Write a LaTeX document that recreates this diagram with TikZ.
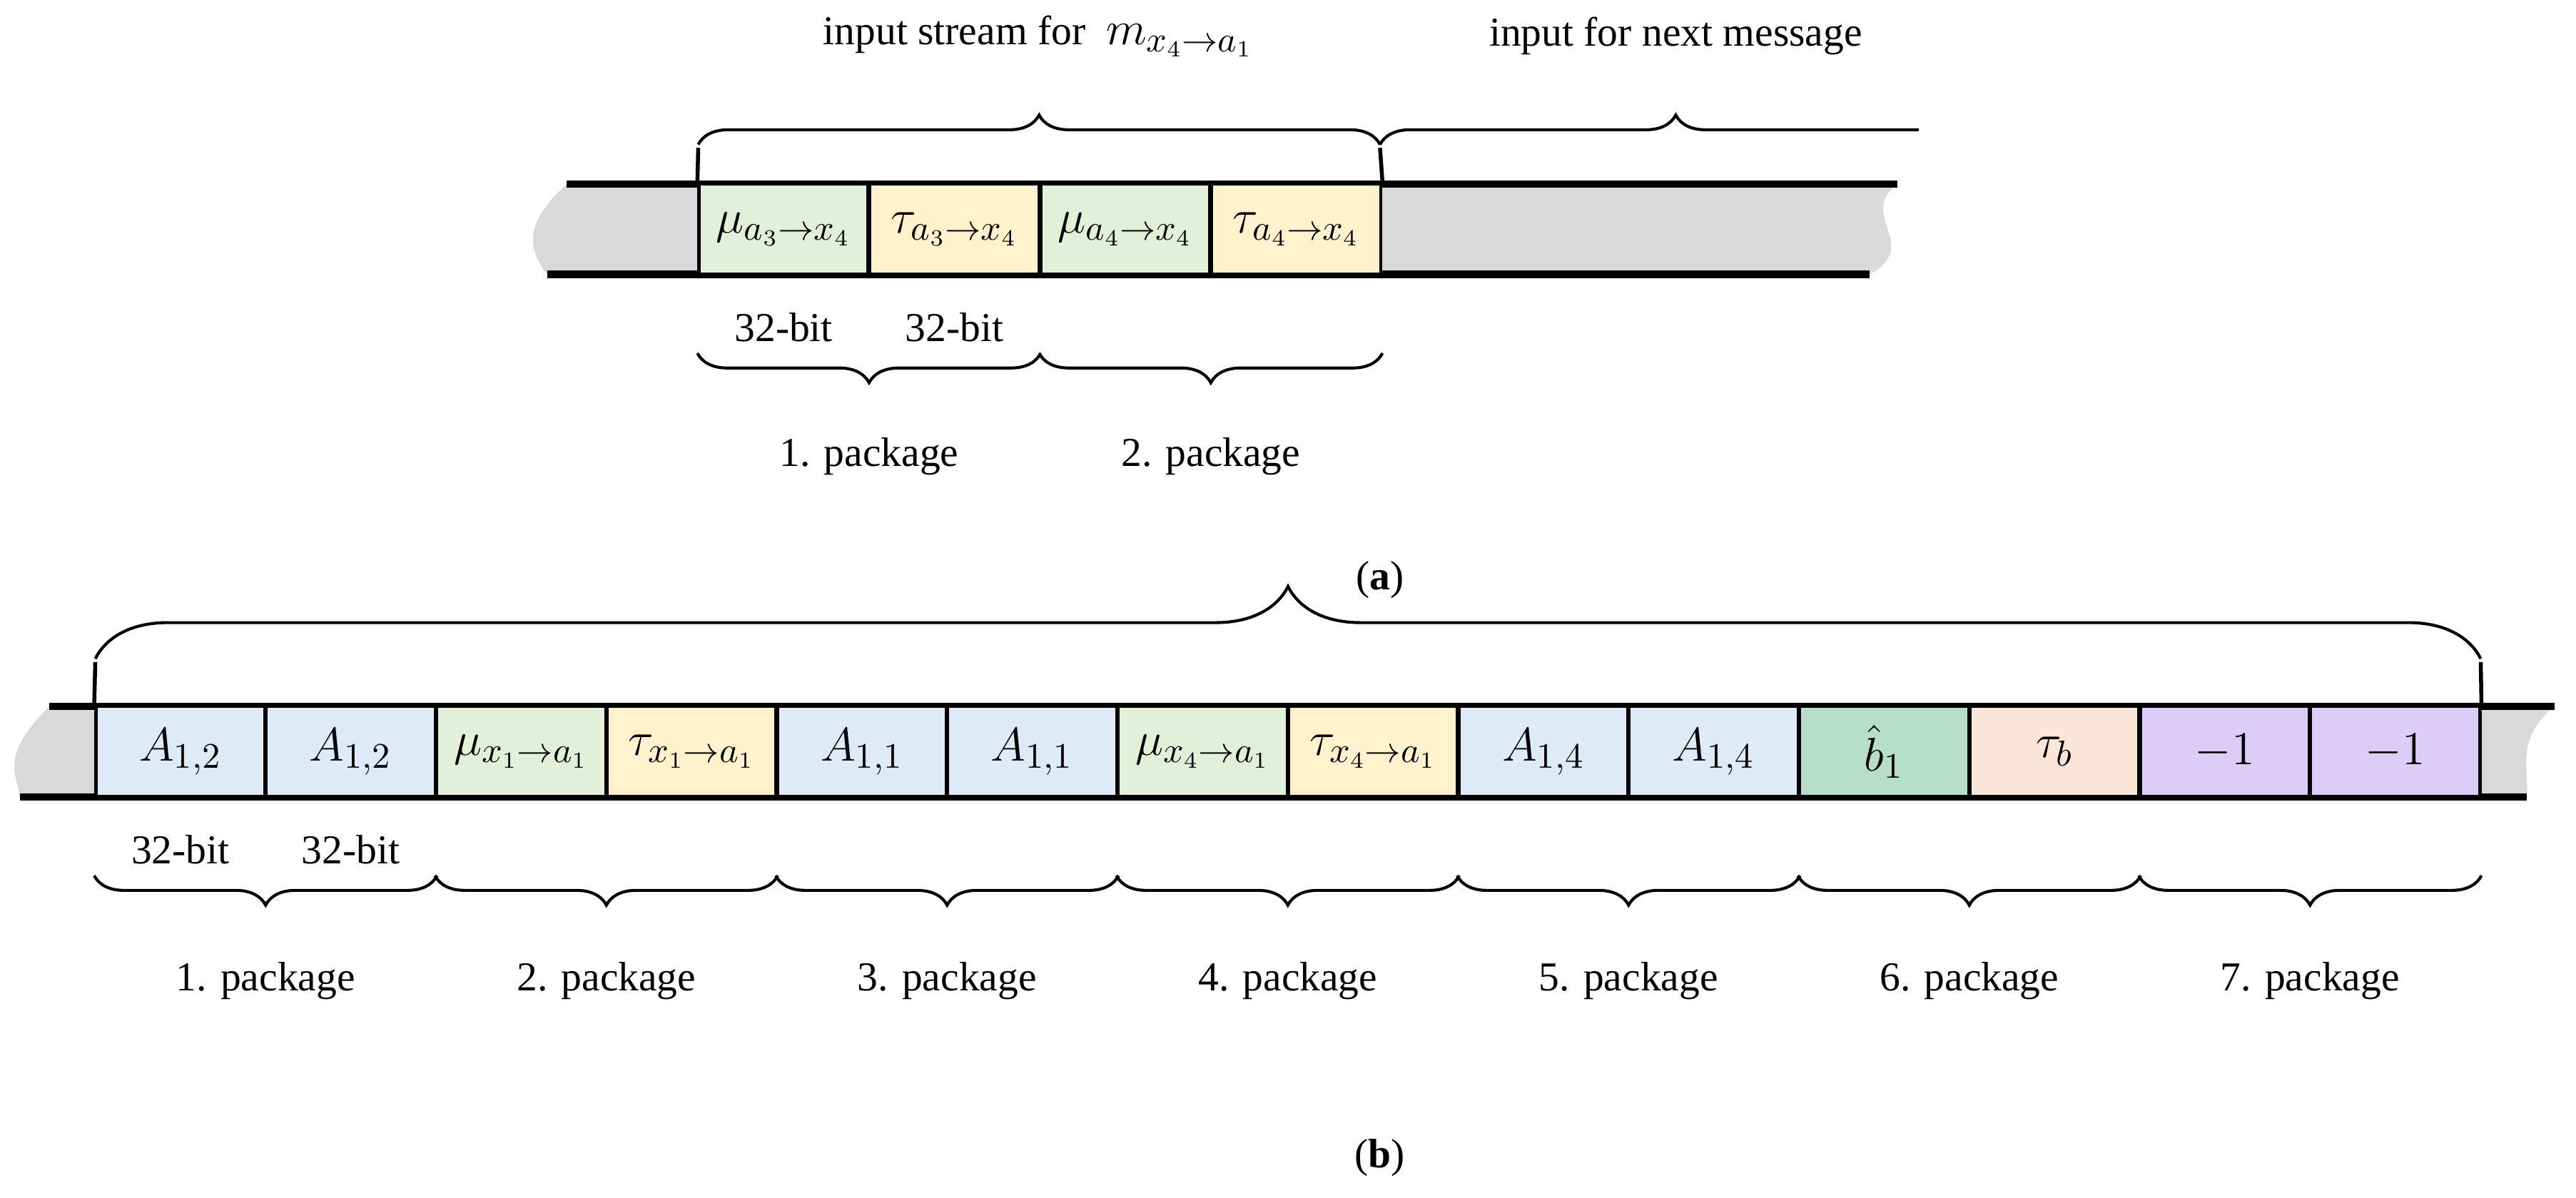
\documentclass[tikz,border=0pt]{standalone}
\usepackage{fontspec}
\setmainfont{Liberation Serif}
\usetikzlibrary{positioning,decorations.pathreplacing}
\definecolor{cblue}{HTML}{DEEBF7}
\definecolor{cgreen}{HTML}{E2F0D9}
\definecolor{cyellow}{HTML}{FFF2CC}
\definecolor{cteal}{HTML}{B6DECB}
\definecolor{cpeach}{HTML}{FBE5D6}
\definecolor{cpurple}{HTML}{DCCDF8}
\definecolor{ctape}{HTML}{D9D9D9}
\begin{document}
\begin{tikzpicture}[x=0.5pt,y=-0.5pt,
  cell/.style={draw, line width=1pt, minimum width=51.5pt, minimum height=27.5pt, inner sep=0pt, font=\fontsize{15}{17}\selectfont},
  lbl/.style={font=\fontsize{12.5}{15}\selectfont, inner sep=1pt},
  mybrace/.style={decorate, decoration={brace, amplitude=9pt}, line width=0.9pt},
  tape/.style={line width=2.2pt}]
\useasboundingbox (0,0) rectangle (1568,729);

% (a) tape
\fill[ctape] (345,112) .. controls (320,135) and (320,150) .. (333,167) -- (1138,167) .. controls (1170,150) and (1130,130) .. (1155,112) -- cycle;
\draw[tape] (345,112) -- (1155,112);
\draw[tape] (333,167) -- (1138,167);
\foreach \t/\c [count=\i] in {{\mu_{a_3\to x_4}}/cgreen, {\tau_{a_3\to x_4}}/cyellow, {\mu_{a_4\to x_4}}/cgreen, {\tau_{a_4\to x_4}}/cyellow}
  \node[cell, fill=\c] (p\i) at (425+104*\i-52,139.5) {$\t$};
\coordinate (pt1) at (425,90);
\coordinate (pt2) at (840,90);
\draw[line width=1.2pt] (p1.north west) -- (pt1);
\draw[line width=1.2pt] (p4.north east) -- (pt2);
\draw[mybrace] (425,88) -- (840,88);
\begin{scope}
\clip (840,40) rectangle (1168,100);
\draw[mybrace] (840,88) -- (1200,88);
\end{scope}
\node[lbl] (ha) at (632,22) {input stream for \ {\fontsize{15}{17}\selectfont$m_{x_4\to a_1}$}};
\node[lbl] (hb) at (1020,22) {input for next message};
\node[lbl, below=10pt of p1] (ba1) {32-bit};
\node[lbl, below=10pt of p2] (ba2) {32-bit};
\draw[mybrace] (p2.south east |- 0,215) -- (p1.south west |- 0,215);
\draw[mybrace] (p4.south east |- 0,215) -- (p3.south west |- 0,215);
\node[lbl] (pa1) at (529,278) {1. package};
\node[lbl] (pa2) at (737,278) {2. package};
\node[lbl] (capa) at (840,353) {(\textbf{a})};

% (b) tape
\fill[ctape] (30,430) .. controls (0,460) and (10,470) .. (12,485) -- (1538,485) .. controls (1540,470) and (1530,450) .. (1555,430) -- cycle;
\draw[tape] (30,430) -- (1555,430);
\draw[tape] (12,485) -- (1538,485);
\foreach \t/\c [count=\i] in {{A_{1,2}}/cblue, {A_{1,2}}/cblue, {\mu_{x_1\to a_1}}/cgreen, {\tau_{x_1\to a_1}}/cyellow, {A_{1,1}}/cblue, {A_{1,1}}/cblue, {\mu_{x_4\to a_1}}/cgreen, {\tau_{x_4\to a_1}}/cyellow, {A_{1,4}}/cblue, {A_{1,4}}/cblue, {\hat{b}_1}/cteal, {\tau_b}/cpeach, {-1}/cpurple, {-1}/cpurple}
  \node[cell, fill=\c] (c\i) at (58+103.7*\i-51.85,457.5) {$\t$};
\coordinate (ct1) at (58,403);
\coordinate (ct2) at (1510,403);
\draw[line width=1.2pt] (c1.north west) -- (ct1);
\draw[line width=1.2pt] (c14.north east) -- (ct2);
\draw[mybrace, decoration={amplitude=22pt}] (58,401) -- (1510,401);
\node[lbl, below=10pt of c1] (bb1) {32-bit};
\node[lbl, below=10pt of c2] (bb2) {32-bit};
\foreach \k [evaluate=\k as \a using int(2*\k-1), evaluate=\k as \b using int(2*\k)] in {1,...,7} {
  \draw[mybrace] (c\b.south east |- 0,533) -- (c\a.south west |- 0,533);
  \node[lbl] (pb\k) at (58+207.4*\k-103.7,597) {\k. package};
}
\node[lbl] (capb) at (840,705) {(\textbf{b})};
\end{tikzpicture}
\end{document}
